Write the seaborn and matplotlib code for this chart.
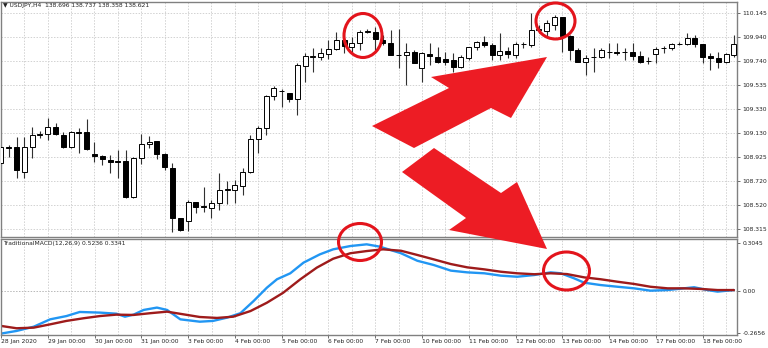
import numpy as np
import pandas as pd
import matplotlib
matplotlib.use("Agg")
import matplotlib.pyplot as plt
import seaborn as sns
from matplotlib.patches import Polygon, Ellipse

# ---------------- data ----------------
opens = [108.873, 109.008, 109.008, 108.796, 109.008, 109.114, 109.119, 109.178, 109.110, 109.008,
         109.136, 109.136, 108.949, 108.932, 108.898, 108.886, 108.890, 108.585, 108.915, 109.034,
         109.059, 108.949, 108.830, 108.406, 108.381, 108.542, 108.512, 108.491, 108.534, 108.644,
         108.644, 108.678, 108.796, 109.076, 109.170, 109.441, 109.483, 109.466, 109.415, 109.695,
         109.772, 109.772, 109.797, 109.839, 109.916, 109.856, 109.890, 109.984, 109.984, 109.916,
         109.890, 109.789, 109.789, 109.814, 109.678, 109.797, 109.772, 109.755, 109.746, 109.687,
         109.763, 109.856, 109.899, 109.873, 109.789, 109.823, 109.789, 109.882, 109.873, 110.001,
         109.992, 110.043, 110.111, 109.950, 109.831, 109.729, 109.772, 109.772, 109.814, 109.814,
         109.814, 109.814, 109.780, 109.738, 109.797, 109.848, 109.848, 109.882, 109.882, 109.933,
         109.882, 109.780, 109.763, 109.729, 109.789]
closes = [109.008, 109.004, 108.813, 109.008, 109.110, 109.119, 109.178, 109.119, 109.008, 109.136,
          109.127, 108.991, 108.932, 108.907, 108.881, 108.881, 108.585, 108.915, 109.034, 109.051,
          108.949, 108.839, 108.406, 108.305, 108.542, 108.500, 108.500, 108.534, 108.644, 108.648,
          108.686, 108.796, 109.076, 109.170, 109.441, 109.509, 109.487, 109.415, 109.704, 109.780,
          109.776, 109.806, 109.839, 109.916, 109.865, 109.890, 109.984, 109.992, 109.924, 109.890,
          109.789, 109.785, 109.814, 109.721, 109.806, 109.776, 109.729, 109.729, 109.687, 109.772,
          109.856, 109.899, 109.873, 109.789, 109.823, 109.797, 109.882, 109.878, 110.001, 110.009,
          110.060, 110.111, 109.950, 109.831, 109.729, 109.763, 109.768, 109.831, 109.810, 109.806,
          109.810, 109.780, 109.729, 109.734, 109.839, 109.844, 109.882, 109.878, 109.933, 109.882,
          109.772, 109.763, 109.729, 109.797, 109.882]
highs = [109.026, 109.026, 109.093, 109.093, 109.178, 109.140, 109.254, 109.212, 109.136, 109.140,
         109.170, 109.246, 109.051, 108.941, 108.941, 108.983, 108.983, 108.920, 109.119, 109.102,
         109.062, 108.958, 108.873, 108.410, 108.559, 108.545, 108.669, 108.559, 108.788, 108.720,
         108.729, 108.830, 109.110, 109.187, 109.449, 109.526, 109.500, 109.470, 109.721, 109.806,
         109.848, 109.848, 109.916, 109.984, 109.920, 109.941, 110.001, 110.009, 110.026, 109.958,
         110.001, 110.009, 109.890, 109.831, 109.814, 109.890, 109.856, 109.814, 109.806, 109.789,
         109.860, 109.907, 109.950, 109.890, 109.975, 109.856, 109.899, 109.899, 110.145, 110.043,
         110.085, 110.128, 110.115, 109.954, 109.848, 109.789, 109.848, 109.848, 109.890, 109.890,
         109.848, 109.890, 109.823, 109.772, 109.856, 109.865, 109.890, 109.899, 109.975, 109.958,
         109.886, 109.806, 109.814, 109.806, 109.958]
lows = [108.856, 108.924, 108.746, 108.746, 108.915, 109.085, 109.068, 109.110, 109.000, 109.000,
        108.958, 108.983, 108.881, 108.856, 108.788, 108.746, 108.576, 108.576, 108.864, 109.000,
        108.907, 108.813, 108.288, 108.296, 108.296, 108.449, 108.457, 108.406, 108.474, 108.525,
        108.534, 108.601, 108.788, 108.958, 109.110, 109.407, 109.348, 109.390, 109.280, 109.560,
        109.644, 109.746, 109.755, 109.831, 109.806, 109.806, 109.831, 109.975, 109.831, 109.873,
        109.785, 109.678, 109.534, 109.717, 109.560, 109.704, 109.721, 109.704, 109.644, 109.678,
        109.746, 109.831, 109.856, 109.746, 109.746, 109.763, 109.763, 109.848, 109.856, 109.975,
        109.941, 110.001, 109.814, 109.746, 109.725, 109.619, 109.644, 109.763, 109.763, 109.789,
        109.746, 109.746, 109.721, 109.712, 109.721, 109.806, 109.831, 109.873, 109.873, 109.856,
        109.721, 109.661, 109.678, 109.721, 109.772]

macd_idx = [0, 2.0, 4.2, 6.3, 8.4, 10.1, 12.7, 14.8, 15.9, 17.0,
            18.3, 20.0, 21.3, 23.0, 25.5, 27.2, 29.0, 30.7, 32.4, 34.1,
            35.4, 37.1, 38.8, 40.9, 42.6, 44.8, 46.9, 48.6,
            51.3, 53.4, 55.5, 57.7, 59.8, 62.0, 64.1, 66.2, 68.4, 70.5,
            71.8, 73.5, 74.8, 76.9, 79.1, 81.2, 83.3, 85.5, 87.6, 88.9,
            90.6, 91.9, 94.0]
macd_vals = [-0.272, -0.255, -0.228, -0.181, -0.160, -0.134, -0.138, -0.145, -0.164, -0.151,
             -0.121, -0.106, -0.121, -0.181, -0.196, -0.191, -0.170, -0.142, -0.064, 0.021,
             0.075, 0.113, 0.181, 0.234, 0.266, 0.287, 0.298, 0.283,
             0.241, 0.193, 0.166, 0.130, 0.119, 0.113, 0.098, 0.091, 0.102, 0.119,
             0.113, 0.081, 0.053, 0.038, 0.027, 0.017, 0.002, 0.006, 0.017, 0.024,
             0.006, -0.004, 0.006]
signal_idx = [0, 2.0, 4.2, 6.3, 8.4, 10.6, 12.7, 14.8, 17.0, 19.1,
              21.3, 23.4, 25.5, 27.7, 29.8, 32.0, 34.1, 36.2, 38.4, 40.5,
              42.6, 44.8, 46.9, 49.0, 51.3, 53.4, 55.5, 57.7, 59.8, 62.0,
              64.1, 66.2, 68.4, 70.5, 72.6, 74.8, 76.9, 79.1, 81.2, 83.3,
              85.5, 87.6, 89.8, 91.9, 94.0]
signal_vals = [-0.223, -0.238, -0.234, -0.213, -0.191, -0.174, -0.160, -0.151, -0.153, -0.142,
               -0.132, -0.149, -0.166, -0.172, -0.164, -0.128, -0.075, -0.011, 0.075, 0.149,
               0.206, 0.241, 0.255, 0.266, 0.257, 0.230, 0.202, 0.172, 0.151, 0.138,
               0.123, 0.113, 0.107, 0.113, 0.108, 0.087, 0.075, 0.059, 0.045, 0.027,
               0.017, 0.017, 0.013, 0.006, 0.006]

price_ticks = [110.145, 109.940, 109.740, 109.535, 109.330, 109.130, 108.925, 108.720, 108.520, 108.315]
price_labels = ["110.145", "109.940", "109.740", "109.535", "109.330", "109.130",
                "108.925", "108.720", "108.520", "108.315"]
macd_ticks = [0.3045, 0.0, -0.2656]
macd_labels = ["0.3045", "0.00", "-0.2656"]
date_labels = ["28 Jan 2020", "29 Jan 00:00", "30 Jan 00:00", "31 Jan 00:00", "3 Feb 00:00",
               "4 Feb 00:00", "5 Feb 00:00", "6 Feb 00:00", "7 Feb 00:00", "10 Feb 00:00",
               "11 Feb 00:00", "12 Feb 00:00", "13 Feb 00:00", "14 Feb 00:00", "17 Feb 00:00",
               "18 Feb 00:00"]
title_text = "\u25bc USDJPY,H4  138.696 138.737 138.358 138.621"
macd_title = "TraditionalMACD(12,26,9) 0.5236 0.3341"

# ---------------- style ----------------
sns.set_style("white")
plt.rcParams['font.family'] = ['DejaVu Sans']
W, H = 768, 348
fig = plt.figure(figsize=(W / 100, H / 100), dpi=100)
fig.patch.set_facecolor("white")


def px_axes(l, t, r, b):
    return fig.add_axes([l / W, 1 - b / H, (r - l) / W, (b - t) / H])


ax1 = px_axes(1, 2, 737, 237)
ax2 = px_axes(1, 239, 737, 335)

XL = (0.01, 94.4)
grid_c = "#d2d2d2"
grid_ls = (0, (1.5, 1.5))
n = len(opens)
grid_x = np.arange(3, 95, 3)
day_x = np.arange(0, 6 * len(date_labels), 6)

# ---------------- candles ----------------
df = pd.DataFrame({"o": opens, "h": highs, "l": lows, "c": closes})
df["i"] = np.arange(n)
up = df["c"] >= df["o"]
for gx in grid_x:
    ax1.axvline(gx, color=grid_c, lw=0.7, ls=grid_ls, zorder=0)
for py in price_ticks:
    ax1.axhline(py, color=grid_c, lw=0.7, ls=grid_ls, zorder=0)
ax1.vlines(df["i"], df["l"], df["h"], color="#303030", lw=0.8, zorder=2)
body_bottom = np.minimum(df["o"], df["c"])
body_h = np.maximum(np.abs(df["c"] - df["o"]), 0.002)
ax1.bar(df["i"], body_h, bottom=body_bottom, width=0.64,
        color=np.where(up, "white", "black"), edgecolor="black", linewidth=0.7, zorder=3)
ax1.set_xlim(*XL)
ax1.set_ylim(108.245, 110.238)
ax1.yaxis.tick_right()
ax1.set_yticks(price_ticks)
ax1.set_yticklabels(price_labels)
ax1.set_xticks([])
ax1.tick_params(axis="y", length=2.5, width=0.6, color="#555555", labelsize=4.3,
                pad=1.5, labelcolor="#222222", right=True, left=False)

# ---------------- MACD ----------------
for gx in grid_x:
    ax2.axvline(gx, color=grid_c, lw=0.7, ls=grid_ls, zorder=0)
ax2.axhline(0, color="#b8b8b8", lw=0.7, ls=grid_ls, zorder=0)
mdf = pd.DataFrame({"idx": macd_idx, "val": macd_vals})
sdf = pd.DataFrame({"idx": signal_idx, "val": signal_vals})
sns.lineplot(data=mdf, x="idx", y="val", ax=ax2, color="#2196f3", linewidth=1.7, sort=False)
sns.lineplot(data=sdf, x="idx", y="val", ax=ax2, color="#9e1b1b", linewidth=1.7, sort=False)
ax2.set_xlim(*XL)
ax2.set_ylim(-0.281, 0.332)
ax2.set_xlabel("")
ax2.set_ylabel("")
ax2.yaxis.tick_right()
ax2.set_yticks(macd_ticks)
ax2.set_yticklabels(macd_labels)
ax2.set_xticks(day_x)
ax2.set_xticklabels(date_labels, ha="left")
ax2.tick_params(axis="y", length=2.5, width=0.6, color="#555555", labelsize=4.3,
                pad=1.5, labelcolor="#222222", right=True, left=False)
ax2.tick_params(axis="x", length=2, width=0.6, color="#555555", labelsize=4.3,
                pad=1.2, labelcolor="#222222", bottom=True)

for a in (ax1, ax2):
    for s in a.spines.values():
        s.set_color("#808080")
        s.set_linewidth(1.0)
        s.set_visible(True)

fig.text(3 / W, 1 - 6 / H, title_text, fontsize=4.3, va="center", ha="left", color="#222222")
fig.text(3 / W, 1 - 243.5 / H, macd_title, fontsize=4.3, va="center", ha="left", color="#222222")

# ---------------- annotations (pixel overlay) ----------------
ov = fig.add_axes([0, 0, 1, 1], zorder=10)
ov.set_xlim(0, W)
ov.set_ylim(H, 0)
ov.axis("off")
ov.patch.set_alpha(0)
arrow_red = "#ed1c24"
ov.add_patch(Polygon([(372, 126), (449, 88), (431, 77), (547, 57), (511, 118), (491, 108), (414, 148)],
                     closed=True, facecolor=arrow_red, edgecolor="none"))
ov.add_patch(Polygon([(434, 148), (402, 172), (466, 218), (449, 230), (547, 249), (517, 182), (501, 193)],
                     closed=True, facecolor=arrow_red, edgecolor="none"))
for (cx, cy, w, h) in [(363, 35.5, 38, 44), (555.5, 21, 39, 36), (360, 242, 43, 37), (566.5, 271, 46, 38)]:
    ov.add_patch(Ellipse((cx, cy), w, h, facecolor="none", edgecolor="#e3141c", linewidth=2.2))

fig.savefig("out.png", dpi=100)
